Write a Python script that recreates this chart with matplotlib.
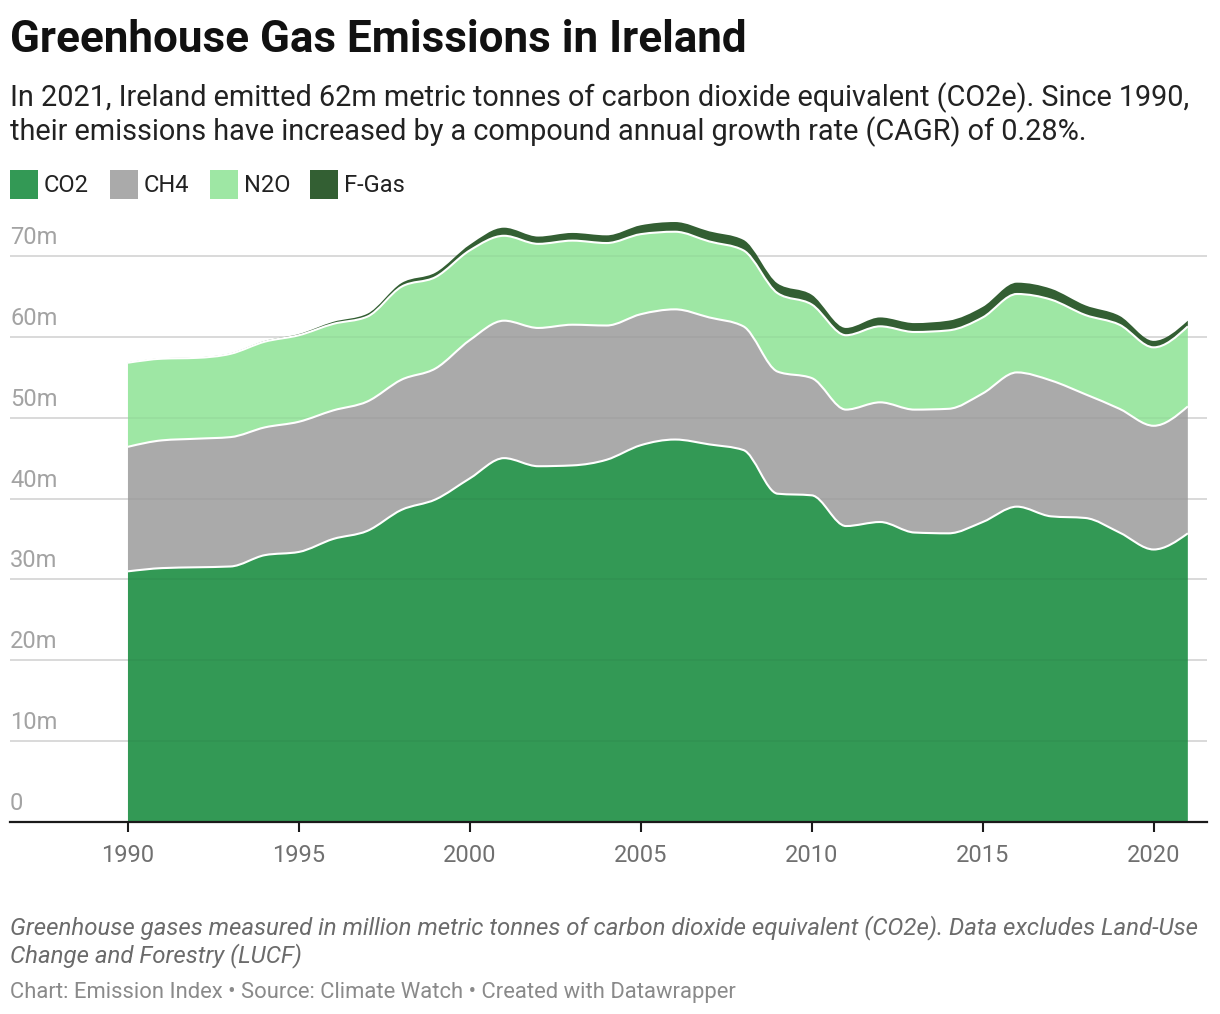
import numpy as np
import matplotlib
matplotlib.use("Agg")
from matplotlib import pyplot as plt
from matplotlib.path import Path
from matplotlib.patches import PathPatch, Rectangle

plt.rcParams["font.family"] = ["Roboto", "DejaVu Sans"]

# Data (million tonnes CO2e)
years = np.arange(1990, 2022)
co2 = [31.0, 31.4, 31.5, 31.6, 33.0, 33.4, 35.0, 36.0, 38.6, 39.9,
       42.5, 45.0, 44.0, 44.1, 44.8, 46.6, 47.3, 46.7, 46.0, 40.6,
       40.4, 36.6, 37.1, 35.8, 35.7, 37.1, 39.0, 37.8, 37.6, 35.8,
       33.7, 35.7]
ch4 = [15.4, 15.8, 15.9, 16.0, 15.8, 16.1, 15.9, 16.0, 16.1, 16.2,
       17.1, 17.0, 17.1, 17.4, 16.6, 16.2, 16.1, 15.7, 15.3, 15.1,
       14.5, 14.4, 14.8, 15.2, 15.4, 15.9, 16.6, 16.8, 15.3, 15.3,
       15.3, 15.7]
n2o = [10.4, 10.1, 10.0, 10.3, 10.6, 10.7, 10.7, 10.5, 11.5, 11.3,
       11.1, 10.5, 10.4, 10.4, 10.2, 9.9, 9.6, 9.4, 9.4, 9.7,
       9.1, 9.2, 9.4, 9.6, 9.7, 9.4, 9.7, 10.0, 9.8, 10.4,
       9.7, 9.9]
fgas = [0.05, 0.05, 0.06, 0.07, 0.1, 0.15, 0.25, 0.35, 0.45, 0.55,
        0.7, 1.0, 0.9, 0.95, 0.95, 1.1, 1.2, 1.25, 1.3, 1.2,
        1.2, 0.9, 1.1, 1.1, 1.2, 1.3, 1.4, 1.35, 1.2, 1.1,
        0.8, 0.7]

gases = ["CO2", "CH4", "N2O", "F-Gas"]
colors = ["#339955", "#aaaaaa", "#9ee7a4", "#335f33"]
y_ticks = [0, 10, 20, 30, 40, 50, 60, 70]
x_ticks = [1990, 1995, 2000, 2005, 2010, 2015, 2020]

W, H = 1220, 1014


def fx(px):
    return px / W


def fy(py):
    return 1 - py / H


def tangents(x, y):
    # monotone-x tangents (same as d3.curveMonotoneX)
    n = len(x)
    t = np.zeros(n)
    for i in range(1, n - 1):
        h0 = x[i] - x[i - 1]
        h1 = x[i + 1] - x[i]
        s0 = (y[i] - y[i - 1]) / h0
        s1 = (y[i + 1] - y[i]) / h1
        p = (s0 * h1 + s1 * h0) / (h0 + h1)
        sg = (1 if s0 >= 0 else -1) + (1 if s1 >= 0 else -1)
        t[i] = sg * min(abs(s0), abs(s1), 0.5 * abs(p))
    t[0] = (3 * (y[1] - y[0]) / (x[1] - x[0]) - t[1]) / 2
    t[-1] = (3 * (y[-1] - y[-2]) / (x[-1] - x[-2]) - t[-2]) / 2
    return t


def curve(x, y, reverse=False):
    """bezier segments of a monotone curve, as (vertices, codes) without MOVETO"""
    t = tangents(x, y)
    verts = []
    idx = range(len(x) - 1)
    if not reverse:
        for i in idx:
            dx = (x[i + 1] - x[i]) / 3
            verts += [(x[i] + dx, y[i] + dx * t[i]),
                      (x[i + 1] - dx, y[i + 1] - dx * t[i + 1]),
                      (x[i + 1], y[i + 1])]
    else:
        for i in reversed(idx):
            dx = (x[i + 1] - x[i]) / 3
            verts += [(x[i + 1] - dx, y[i + 1] - dx * t[i + 1]),
                      (x[i] + dx, y[i] + dx * t[i]),
                      (x[i], y[i])]
    return verts, [Path.CURVE4] * len(verts)


fig = plt.figure(figsize=(W / 100, H / 100), dpi=100)
ax_top_val = 75.0
ax = fig.add_axes([fx(10), 1 - 822 / H, fx(1197), ax_top_val * 8.086 / H])
ax.set_xlim(1986.55, 2021.56)
ax.set_ylim(0, ax_top_val)
for s in ax.spines.values():
    s.set_visible(False)
ax.set_yticks([])
ax.set_xticks(x_ticks)
ax.set_xticklabels([str(v) for v in x_ticks], fontsize=17, color="#707070")
ax.tick_params(axis="x", length=7, width=1.5, color="#1a1a1a", pad=9)

for v in y_ticks:
    if v > 0:
        ax.axhline(v, color="#e3e3e3", lw=1.4, zorder=0)
        ax.axhline(v, color="black", alpha=0.035, lw=1.4, zorder=2.5)
    ax.annotate("0" if v == 0 else f"{v}m", xy=(0, v), xycoords=("axes fraction", "data"),
                xytext=(0, 5), textcoords="offset points", ha="left", va="bottom",
                fontsize=17, color="#a3a3a3")

x = years.astype(float)
series = [np.array(co2), np.array(ch4), np.array(n2o), np.array(fgas)]
tops = np.cumsum(series, axis=0)
lower = np.zeros(len(x))
for k in range(4):
    upper = tops[k]
    v1, c1 = curve(x, upper)
    verts = [(x[0], upper[0])] + v1 + [(x[-1], lower[-1])]
    codes = [Path.MOVETO] + c1 + [Path.LINETO]
    if k == 0:
        verts += [(x[0], 0.0)]
        codes += [Path.LINETO]
    else:
        v2, c2 = curve(x, lower, reverse=True)
        verts += v2
        codes += c2
    verts += [(x[0], upper[0])]
    codes += [Path.CLOSEPOLY]
    ax.add_patch(PathPatch(Path(verts, codes), facecolor=colors[k], edgecolor="none",
                           zorder=2))
    lower = upper

# white separators on top of CO2, CH4, N2O
for k in range(3):
    v1, c1 = curve(x, tops[k])
    ax.add_patch(PathPatch(Path([(x[0], tops[k][0])] + v1, [Path.MOVETO] + c1),
                           facecolor="none", edgecolor="white", lw=1.5, zorder=3))

ax.axhline(0, color="#1a1a1a", lw=1.6, zorder=4, clip_on=False)

# Title, subtitle, legend
fig.text(fx(10), fy(52), "Greenhouse Gas Emissions in Ireland", fontsize=31.7,
         fontweight="bold", color="#111111", va="baseline", ha="left")
fig.text(fx(10), fy(106.5), "In 2021, Ireland emitted 62m metric tonnes of carbon dioxide "
         "equivalent (CO2e). Since 1990,", fontsize=20.8, color="#222222",
         va="baseline", ha="left")
fig.text(fx(10), fy(140), "their emissions have increased by a compound annual growth "
         "rate (CAGR) of 0.28%.", fontsize=20.8, color="#222222", va="baseline", ha="left")

leg_x = [10, 110, 210, 310]
for name, col, lx in zip(gases, colors, leg_x):
    fig.patches.append(Rectangle((fx(lx), fy(199)), 28 / W, 29 / H, transform=fig.transFigure,
                                 facecolor=col, edgecolor="none"))
    fig.text(fx(lx + 34), fy(192.5), name, fontsize=17, color="#222222",
             va="baseline", ha="left")

# Notes
fig.text(fx(10), fy(934), "Greenhouse gases measured in million metric tonnes of carbon dioxide "
         "equivalent (CO2e). Data excludes Land-Use", fontsize=17.3, style="italic",
         color="#6b6b6b", va="baseline", ha="left")
fig.text(fx(10), fy(962), "Change and Forestry (LUCF)", fontsize=17.3, style="italic",
         color="#6b6b6b", va="baseline", ha="left")
fig.text(fx(10), fy(998), "Chart: Emission Index \u2022 Source: Climate Watch \u2022 "
         "Created with Datawrapper", fontsize=15.8, color="#8a8a8a", va="baseline", ha="left")

fig.savefig("out.png", dpi=100)
